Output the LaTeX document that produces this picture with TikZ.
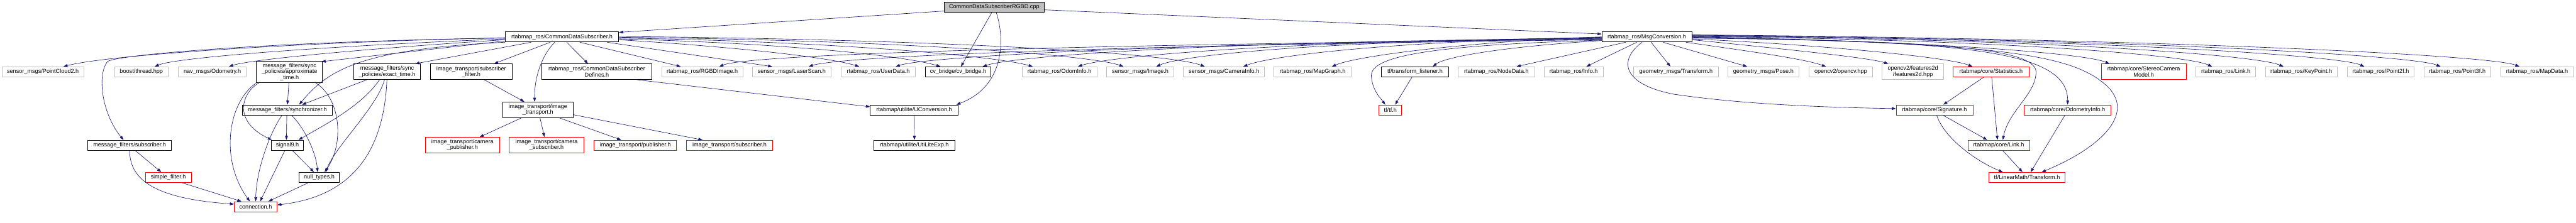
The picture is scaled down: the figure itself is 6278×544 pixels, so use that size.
\documentclass[tikz,border=0pt]{standalone}
\usepackage{fontspec}
\setmainfont{Liberation Sans}
\usetikzlibrary{arrows.meta}
\definecolor{edgec}{HTML}{191970}
\definecolor{grayb}{HTML}{BFBFBF}
\definecolor{redb}{HTML}{FF0000}
\definecolor{rootfill}{HTML}{BFBFBF}
\tikzset{
  bx/.style={draw, line width=1.2pt, minimum height=25pt, inner sep=0pt, align=center, fill=white, font=\fontsize{14pt}{14pt}\selectfont},
  gn/.style={bx, draw=grayb},
  bn/.style={bx, draw=black},
  rn/.style={bx, draw=redb},
  rootn/.style={bx, draw=black, fill=rootfill},
  two/.style={minimum height=38pt},
  three/.style={minimum height=53pt},
  e/.style={draw=edgec, line width=1pt, -{Triangle[length=10pt,width=7pt]}},
}
\begin{document}
\begin{tikzpicture}[x=1pt,y=-1pt]
\useasboundingbox (0,0) rectangle (6278,544);
% row A
\node[rootn, minimum width=244pt] (root) at (2423,17.5) {CommonDataSubscriberRGBD.cpp};
% row B
\node[bn, minimum width=277pt] (cds) at (1369.5,90) {rtabmap\_ros/CommonDataSubscriber.h};
\node[bn, minimum width=219pt] (msg) at (4013.5,90) {rtabmap\_ros/MsgConversion.h};
% row C
\node[gn, minimum width=199pt] (pc2) at (104.5,175.5) {sensor\_msgs/PointCloud2.h};
\node[gn, minimum width=131pt] (boost) at (344.5,175.5) {boost/thread.hpp};
\node[gn, minimum width=165pt] (odom) at (517.5,175.5) {nav\_msgs/Odometry.h};
\node[bn, three, minimum width=161pt] (approx) at (705.5,175.5) {message\_filters/sync\\\_policies/approximate\\\_time.h};
\node[bn, two, minimum width=163pt] (exact) at (943.5,175) {message\_filters/sync\\\_policies/exact\_time.h};
\node[bn, two, minimum width=199pt] (subf) at (1148.5,175) {image\_transport/subscriber\\\_filter.h};
\node[bn, two, minimum width=267pt] (defines) at (1454.5,175) {rtabmap\_ros/CommonDataSubscriber\\Defines.h};
\node[gn, minimum width=197pt] (rgbd) at (1711.5,175.5) {rtabmap\_ros/RGBDImage.h};
\node[gn, minimum width=191pt] (laser) at (1929.5,175.5) {sensor\_msgs/LaserScan.h};
\node[gn, minimum width=181pt] (userdata) at (2140.5,175.5) {rtabmap\_ros/UserData.h};
\node[bn, minimum width=160pt] (cvb) at (2335,175.5) {cv\_bridge/cv\_bridge.h};
\node[gn, minimum width=182pt] (odominfo) at (2582,175.5) {rtabmap\_ros/OdomInfo.h};
\node[gn, minimum width=164pt] (image) at (2779,175.5) {sensor\_msgs/Image.h};
\node[gn, minimum width=198pt] (caminfo) at (2983,175.5) {sensor\_msgs/CameraInfo.h};
\node[gn, minimum width=188pt] (mapgraph) at (3199,175.5) {rtabmap\_ros/MapGraph.h};
\node[bn, minimum width=163pt] (tfl) at (3448.5,175.5) {tf/transform\_listener.h};
\node[gn, minimum width=186pt] (nodedata) at (3647,175.5) {rtabmap\_ros/NodeData.h};
\node[gn, minimum width=144pt] (info) at (3835,175.5) {rtabmap\_ros/Info.h};
\node[gn, minimum width=207pt] (gtrans) at (4084.5,175.5) {geometry\_msgs/Transform.h};
\node[gn, minimum width=173pt] (pose) at (4297.5,175.5) {geometry\_msgs/Pose.h};
\node[gn, minimum width=154pt] (opencv) at (4486,175.5) {opencv2/opencv.hpp};
\node[gn, two, minimum width=150pt] (feat) at (4662,175) {opencv2/features2d\\/features2d.hpp};
\node[rn, minimum width=185pt] (stats) at (4852.5,175.5) {rtabmap/core/Statistics.h};
\node[rn, two, minimum width=207pt] (stereo) at (5224.5,175) {rtabmap/core/StereoCamera\\Model.h};
\node[gn, minimum width=145pt] (rlink) at (5424.5,175.5) {rtabmap\_ros/Link.h};
\node[gn, minimum width=175pt] (keyp) at (5608.5,175.5) {rtabmap\_ros/KeyPoint.h};
\node[gn, minimum width=162pt] (p2f) at (5802,175.5) {rtabmap\_ros/Point2f.h};
\node[gn, minimum width=163pt] (p3f) at (5988.5,175.5) {rtabmap\_ros/Point3f.h};
\node[gn, minimum width=178pt] (mapdata) at (6183,175.5) {rtabmap\_ros/MapData.h};
% row D
\node[bn, minimum width=219pt] (sync) at (700.5,268.5) {message\_filters/synchronizer.h};
\node[bn, two, minimum width=172pt] (itr) at (1311,268) {image\_transport/image\\\_transport.h};
\node[bn, minimum width=214pt] (uconv) at (2228,268.5) {rtabmap/utilite/UConversion.h};
\node[rn, minimum width=55pt] (tftf) at (3388.5,268.5) {tf/tf.h};
\node[rn, minimum width=187pt] (sig) at (4714.5,268.5) {rtabmap/core/Signature.h};
\node[rn, minimum width=212pt] (odoi) at (5039,268.5) {rtabmap/core/OdometryInfo.h};
% row E
\node[bn, minimum width=204pt] (subs) at (316,354.5) {message\_filters/subscriber.h};
\node[bn, minimum width=79pt] (sig9) at (700.5,354.5) {signal9.h};
\node[rn, two, minimum width=182pt] (campub) at (1127,354) {image\_transport/camera\\\_publisher.h};
\node[rn, two, minimum width=182pt] (camsub) at (1332,354) {image\_transport/camera\\\_subscriber.h};
\node[rn, minimum width=201pt] (pub) at (1548.5,354.5) {image\_transport/publisher.h};
\node[rn, minimum width=210pt] (itsub) at (1778,354.5) {image\_transport/subscriber.h};
\node[bn, minimum width=197pt] (utile) at (2228.5,354.5) {rtabmap/utilite/UtiLiteExp.h};
\node[rn, minimum width=150pt] (clink) at (4871,354.5) {rtabmap/core/Link.h};
% row F
\node[rn, minimum width=112pt] (simple) at (410,433) {simple\_filter.h};
\node[bn, minimum width=98pt] (nullt) at (778,433) {null\_types.h};
\node[rn, minimum width=186pt] (lmt) at (4940,433) {tf/LinearMath/Transform.h};
% row G
\node[rn, minimum width=104pt] (conn) at (623,504.5) {connection.h};

% ---- edges from root
\draw[e] ([yshift=-9.5pt]root.west) -- ([yshift=-2pt]cds.north east);
\draw[e] ([xshift=-6pt]root.south) -- ([xshift=7pt]cvb.north);
\draw[e] ([xshift=5pt]root.south) .. controls (2448,90) and (2452,210) .. ([xshift=-5pt]uconv.north east);
\draw[e] ([yshift=-6.5pt]root.east) -- ([yshift=7pt]msg.west);

% ---- edges from CommonDataSubscriber.h
\draw[e] ([yshift=-2pt]cds.west) .. controls (700,104) and (260,135) .. ([xshift=50pt]pc2.north);
\draw[e] ([yshift=-3pt]cds.west) .. controls (700,100) and (290,132) .. (262,150) .. controls (235,185) and (250,280) .. ([xshift=-15pt]subs.north);
\draw[e] ([yshift=-5pt]cds.west) .. controls (800,112) and (430,140) .. ([xshift=32.5pt]boost.north);
\draw[e] ([yshift=-7pt]cds.west) .. controls (900,118) and (610,145) .. ([xshift=40.5pt]odom.north);
\draw[e] ([yshift=-10pt]cds.west) -- ([xshift=-3pt,yshift=-2pt]approx.north east);
\draw[e] (cds.south west) .. controls (880,120) and (800,170) .. ([xshift=28.5pt]sync.north);
\draw[e] ([xshift=-75pt]cds.south) -- ([xshift=-13.5pt]exact.north east);
\draw[e] ([xshift=-28.5pt]cds.south) -- ([xshift=55.5pt]subf.north);
\draw[e] ([xshift=-17.5pt]cds.south) .. controls (1320,135) and (1302,190) .. ([xshift=-8pt]itr.north);
\draw[e] ([xshift=11.5pt]cds.south) -- ([xshift=-21.5pt]defines.north);
\draw[e] ([xshift=43.5pt]cds.south) -- ([xshift=-52.5pt]rgbd.north);
\draw[e] ([xshift=110pt]cds.south) -- ([xshift=-47.5pt]laser.north);
\draw[e] ([yshift=-7pt]cds.east) .. controls (1800,115) and (2020,140) .. ([xshift=-46.5pt]userdata.north);
\draw[e] ([yshift=-5pt]cds.east) .. controls (1900,105) and (2200,135) .. ([xshift=-43pt]cvb.north);
\draw[e] ([yshift=-3pt]cds.east) .. controls (2000,100) and (2420,135) .. ([xshift=-65pt]odominfo.north);
\draw[e] ([yshift=-1pt]cds.east) .. controls (2200,98) and (2660,135) .. ([xshift=-41pt]image.north);
\draw[e] ([yshift=1pt]cds.east) .. controls (2300,96) and (2850,130) .. ([xshift=-47pt]caminfo.north);

% ---- edges from MsgConversion.h
\draw[e] ([yshift=-6pt]msg.west) .. controls (2500,110) and (1820,135) .. ([xshift=41.5pt]rgbd.north);
\draw[e] ([yshift=-7pt]msg.west) .. controls (2600,112) and (2040,140) .. ([xshift=41.5pt]laser.north);
\draw[e] ([yshift=-5pt]msg.west) .. controls (2800,105) and (2250,140) .. ([xshift=42.5pt]userdata.north);
\draw[e] ([yshift=-4pt]msg.west) .. controls (2900,100) and (2460,140) .. ([xshift=60pt]cvb.north);
\draw[e] ([yshift=-3pt]msg.west) .. controls (3100,100) and (2700,138) .. ([xshift=45pt]odominfo.north);
\draw[e] ([yshift=-2pt]msg.west) .. controls (3200,100) and (2880,135) .. ([xshift=39pt]image.north);
\draw[e] ([yshift=-1pt]msg.west) .. controls (3400,100) and (3100,135) .. ([xshift=47pt]caminfo.north);
\draw[e] (msg.west) .. controls (3600,100) and (3310,135) .. ([xshift=47pt]mapgraph.north);
\draw[e] ([yshift=-8pt]msg.west) .. controls (3500,110) and (3340,135) .. (3342,185) .. controls (3344,220) and (3365,240) .. ([xshift=-12.5pt]tftf.north);
\draw[e] ([yshift=-9pt]msg.west) .. controls (3650,115) and (3520,140) .. ([xshift=43.5pt]tfl.north);
\draw[e] ([xshift=-51.5pt]msg.south) -- ([xshift=49pt]nodedata.north);
\draw[e] ([xshift=-24.5pt]msg.south) -- ([xshift=31pt]info.north);
\draw[e] ([xshift=10.5pt]msg.south) -- ([xshift=-13.5pt]gtrans.north);
\draw[e] ([xshift=39.5pt]msg.south) -- ([xshift=-39.5pt]pose.north);
\draw[e] ([xshift=95pt]msg.south) .. controls (4300,130) and (4400,145) .. ([xshift=-36pt]opencv.north);
\draw[e] ([yshift=-7pt]msg.east) .. controls (4350,120) and (4550,140) .. ([xshift=-60pt]feat.north);
\draw[e] ([yshift=-5pt]msg.east) .. controls (4450,110) and (4750,140) .. ([xshift=-45.5pt]stats.north);
\draw[e] ([xshift=-11.5pt]msg.south) .. controls (3945,145) and (3950,205) .. (4080,230) .. controls (4250,255) and (4450,262) .. ([yshift=3.5pt]sig.west);
\draw[e] ([yshift=-3pt]msg.east) .. controls (4700,100) and (4960,115) .. (4962,175) .. controls (4962,230) and (4895,270) .. ([xshift=10pt]clink.north);
\draw[e] ([yshift=-2pt]msg.east) .. controls (4800,100) and (5040,125) .. (odoi.north);
\draw[e] ([yshift=-1pt]msg.east) .. controls (4900,105) and (5060,135) .. (5140,215) .. controls (5200,280) and (5120,360) .. ([xshift=36pt]lmt.north);
\draw[e] (msg.east) .. controls (4700,100) and (5080,130) .. ([xshift=-83.5pt]stereo.north);
\draw[e] ([yshift=1pt]msg.east) .. controls (4900,97) and (5330,135) .. ([xshift=-33.5pt]rlink.north);
\draw[e] ([yshift=2pt]msg.east) .. controls (5000,95) and (5500,135) .. ([xshift=-43.5pt]keyp.north);
\draw[e] ([yshift=3pt]msg.east) .. controls (5100,95) and (5700,135) .. ([xshift=-40pt]p2f.north);
\draw[e] ([yshift=4pt]msg.east) .. controls (5200,95) and (5880,135) .. ([xshift=-40.5pt]p3f.north);
\draw[e] ([yshift=5pt]msg.east) .. controls (5300,95) and (6070,135) .. ([xshift=-43pt]mapdata.north);

% ---- message_filters
\draw[e] ([xshift=-1.5pt]approx.south) -- (sync.north);
\draw[e] ([xshift=6.5pt]approx.south west) .. controls (590,225) and (565,295) .. ([xshift=2pt]sig9.north west);
\draw[e] (approx.south west) .. controls (555,250) and (535,390) .. ([xshift=-14pt]conn.north);
\draw[e] ([xshift=-17pt]approx.south east) .. controls (830,240) and (840,350) .. ([xshift=13pt]nullt.north);
\draw[e] ([xshift=-1.5pt]sync.south) -- ([xshift=-2.5pt]sig9.north);
\draw[e] ([xshift=-13.5pt]sync.south) .. controls (660,320) and (625,410) .. (conn.north);
\draw[e] ([xshift=10.5pt]sync.south) .. controls (740,310) and (770,370) .. ([xshift=-4pt]nullt.north);
\draw[e] ([xshift=-6.5pt]sig9.south) -- ([xshift=11pt]conn.north);
\draw[e] ([xshift=12.5pt]sig9.south) -- ([xshift=-13pt]nullt.north);
\draw[e] ([xshift=-27pt]nullt.south) -- ([xshift=31pt]conn.north);
\draw[e] ([xshift=-49.5pt]exact.south) -- ([xshift=35.5pt]sync.north);
\draw[e] ([xshift=-18.5pt]exact.south) .. controls (880,260) and (790,305) .. ([xshift=-13pt]sig9.north east);
\draw[e] ([xshift=-6.5pt]exact.south) .. controls (920,260) and (815,360) .. ([xshift=16pt]nullt.north);
\draw[e] ([xshift=-0.5pt]exact.south) .. controls (935,380) and (850,480) .. ([yshift=4.5pt]conn.east);
\draw[e] ([xshift=14pt]subs.south) -- ([xshift=-17pt]simple.north);
\draw[e] (subs.south) .. controls (316,440) and (380,485) .. ([yshift=6.5pt]conn.west);
\draw[e] ([xshift=34pt]simple.south) -- ([xshift=18pt]conn.north west);

% ---- image_transport
\draw[e] ([xshift=31.5pt]subf.south) -- ([xshift=-33pt]itr.north);
\draw[e] ([xshift=-40pt]itr.south) -- ([xshift=42pt]campub.north);
\draw[e] ([xshift=5pt]itr.south) -- ([xshift=-5pt]camsub.north);
\draw[e] ([xshift=52pt]itr.south) -- ([xshift=-34.5pt]pub.north);
\draw[e] ([yshift=-12pt]itr.east) -- ([xshift=-66pt]itsub.north);

% ---- others
\draw[e] ([xshift=97.5pt]defines.south) -- ([yshift=8pt]uconv.west);
\draw[e] (uconv.south) -- (utile.north);
\draw[e] ([xshift=-7.5pt]tfl.south) -- ([xshift=11.5pt]tftf.north);
\draw[e] ([xshift=-18.5pt]stats.south) -- ([xshift=21.5pt]sig.north);
\draw[e] ([xshift=1.5pt]stats.south) -- ([xshift=-3pt]clink.north);
\draw[e] ([xshift=21.5pt]sig.south) -- ([xshift=-28pt]clink.north);
\draw[e] ([xshift=5.5pt]sig.south) .. controls (4740,340) and (4820,395) .. ([xshift=-59pt]lmt.north);
\draw[e] ([xshift=10pt]clink.south) -- ([xshift=-11pt]lmt.north);
\draw[e] ([xshift=-7pt]odoi.south) -- ([xshift=9pt]lmt.north);
\end{tikzpicture}
\end{document}
